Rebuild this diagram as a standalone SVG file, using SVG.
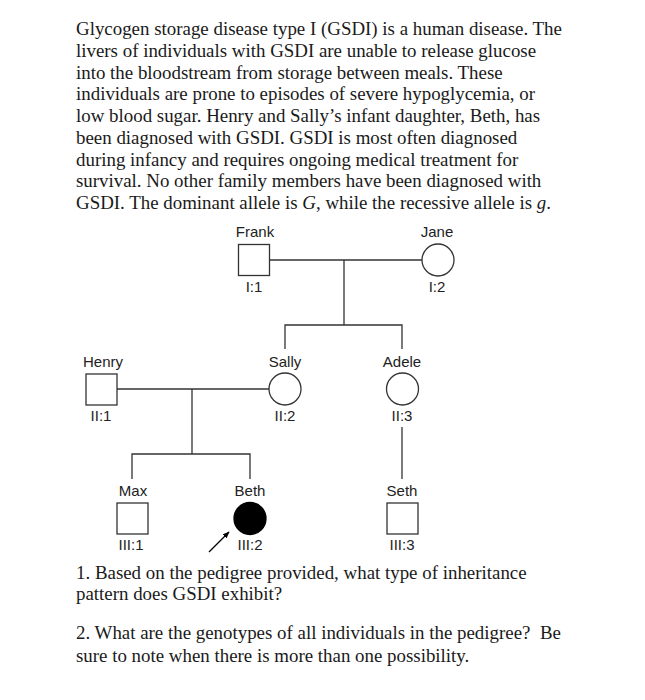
<svg xmlns="http://www.w3.org/2000/svg" width="645" height="700" viewBox="0 0 645 700">
<style>
.body{font-family:"Liberation Serif","Times New Roman",serif;font-size:18.9px;fill:#1a1a1a}
.lbl{font-family:"Liberation Sans",Arial,sans-serif;font-size:15px;fill:#222;text-anchor:middle}
.shape{fill:#fff;stroke:#333;stroke-width:1.3}
.aff{fill:#000;stroke:#000;stroke-width:1.3}
.con{stroke:#333;stroke-width:1.3;fill:none}
</style>
<defs>
<marker id="ah" viewBox="0 0 10 10" refX="9" refY="5" markerWidth="7" markerHeight="7" orient="auto" markerUnits="userSpaceOnUse">
<path d="M0,1 L10,5 L0,9 z" fill="#000"/>
</marker>
</defs>
<rect width="645" height="700" fill="#fff"/>
<g id="intro" class="body">
<text x="76" y="35">Glycogen storage disease type I (GSDI) is a human disease. The</text>
<text x="76" y="56.75">livers of individuals with GSDI are unable to release glucose</text>
<text x="76" y="78.5">into the bloodstream from storage between meals. These</text>
<text x="76" y="100.25">individuals are prone to episodes of severe hypoglycemia, or</text>
<text x="76" y="122">low blood sugar. Henry and Sally’s infant daughter, Beth, has</text>
<text x="76" y="143.75">been diagnosed with GSDI. GSDI is most often diagnosed</text>
<text x="76" y="165.5">during infancy and requires ongoing medical treatment for</text>
<text x="76" y="187.25">survival. No other family members have been diagnosed with</text>
<text x="76" y="209">GSDI. The dominant allele is <tspan font-style="italic">G</tspan>, while the recessive allele is <tspan font-style="italic">g</tspan>.</text>
</g>
<g id="connectors">
<line class="con" x1="269" y1="260" x2="422" y2="260"/>
<line class="con" x1="344" y1="260" x2="344" y2="325"/>
<polyline class="con" points="285,349 285,325 402,325 402,349"/>
<line class="con" x1="117" y1="389" x2="269" y2="389"/>
<line class="con" x1="192" y1="389" x2="192" y2="454"/>
<polyline class="con" points="132,479 132,454 250,454 250,479"/>
<line class="con" x1="402" y1="427" x2="402" y2="479"/>
<line x1="209" y1="552" x2="229" y2="532" stroke="#000" stroke-width="1.3" marker-end="url(#ah)"/>
</g>
<g id="frank">
<text class="lbl" x="255" y="237">Frank</text>
<rect class="shape" x="238.5" y="244.5" width="31" height="31"/>
<text class="lbl" x="254" y="292">I:1</text>
</g>
<g id="jane">
<text class="lbl" x="437" y="237">Jane</text>
<circle class="shape" cx="438" cy="260" r="16"/>
<text class="lbl" x="437" y="292">I:2</text>
</g>
<g id="henry">
<text class="lbl" x="103" y="367">Henry</text>
<rect class="shape" x="86" y="374" width="31" height="31"/>
<text class="lbl" x="101" y="421">II:1</text>
</g>
<g id="sally">
<text class="lbl" x="285" y="367">Sally</text>
<circle class="shape" cx="285" cy="389" r="16"/>
<text class="lbl" x="285" y="421">II:2</text>
</g>
<g id="adele">
<text class="lbl" x="402" y="367">Adele</text>
<circle class="shape" cx="402.5" cy="389" r="16"/>
<text class="lbl" x="402" y="421">II:3</text>
</g>
<g id="max">
<text class="lbl" x="133" y="496">Max</text>
<rect class="shape" x="117" y="503" width="31" height="31"/>
<text class="lbl" x="131" y="550">III:1</text>
</g>
<g id="beth">
<text class="lbl" x="250" y="496">Beth</text>
<circle class="aff" cx="250" cy="518.5" r="16"/>
<text class="lbl" x="250" y="550">III:2</text>
</g>
<g id="seth">
<text class="lbl" x="402" y="496">Seth</text>
<rect class="shape" x="387" y="503" width="31" height="31"/>
<text class="lbl" x="402" y="550">III:3</text>
</g>
<g id="questions" class="body">
<text x="76" y="578.5">1. Based on the pedigree provided, what type of inheritance</text>
<text x="76" y="600">pattern does GSDI exhibit?</text>
<text x="76" y="638.5">2. What are the genotypes of all individuals in the pedigree?&#160; Be</text>
<text x="76" y="661.5">sure to note when there is more than one possibility.</text>
</g>
</svg>
